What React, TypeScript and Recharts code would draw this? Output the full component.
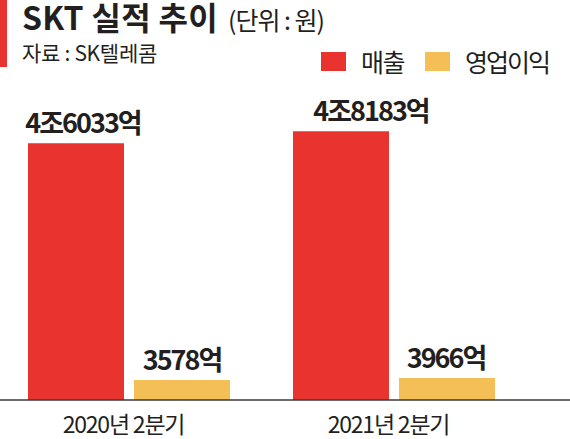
import React from 'react';
import { BarChart, Bar, XAxis, YAxis, LabelList } from 'recharts';

const categories = ['2020년 2분기', '2021년 2분기'];
const revenue = [46033, 48183];
const operatingProfit = [3578, 3966];
const revenueLabels = ['4조6033억', '4조8183억'];
const profitLabels = ['3578억', '3966억'];
const seriesNames = ['매출', '영업이익'];

const RED = '#E8332F';
const YELLOW = '#F4BF57';
const TEXT = '#231F20';
const FONT = '"Noto Sans CJK KR", "Noto Sans", sans-serif';

const data = categories.map((c, i) => ({
  name: c,
  revenue: revenue[i],
  profit: operatingProfit[i],
}));

const revenueShift = [7, 30];
const profitShift = [0, -1];

const makeLabel = (labels: string[], shift: number[]) => (props: any) => {
  const { x, y, width, index } = props;
  const cx = Number(x) + Number(width) / 2 + (shift[index] || 0);
  return (
    <text
      x={cx}
      y={Number(y) - 10}
      textAnchor="middle"
      fontFamily={FONT}
      fontWeight={700}
      fontSize={27}
      letterSpacing={-2}
      fill={TEXT}
    >
      {labels[index]}
    </text>
  );
};

const Tick = (props: any) => {
  const { x, y, payload } = props;
  return (
    <text
      x={Number(x) - 5}
      y={Number(y) + 33}
      textAnchor="middle"
      fontFamily={FONT}
      fontSize={23}
      letterSpacing={-1.2}
      fill={TEXT}
    >
      {payload.value}
    </text>
  );
};

export default function App() {
  return (
    <div style={{ position: 'absolute', left: 0, top: 0, width: 570, height: 439, background: '#fff', overflow: 'hidden' }}>
      <div style={{ position: 'absolute', left: 0, top: 0, width: 7, height: 67, background: RED }} />
      <div
        style={{
          position: 'absolute',
          left: 22,
          top: 0,
          fontFamily: FONT,
          color: TEXT,
          whiteSpace: 'nowrap',
          lineHeight: '32px',
        }}
      >
        <span style={{ fontSize: 32, fontWeight: 700, letterSpacing: 0.3 }}>SKT 실적 추이</span>
        <span style={{ fontSize: 25, marginLeft: 10, letterSpacing: -1 }}>(단위 : 원)</span>
      </div>
      <div
        style={{
          position: 'absolute',
          left: 22,
          top: 40,
          fontFamily: FONT,
          fontSize: 21,
          lineHeight: '24px',
          color: TEXT,
          letterSpacing: -0.3,
          whiteSpace: 'nowrap',
        }}
      >
        자료 : SK텔레콤
      </div>
      <div
        style={{
          position: 'absolute',
          left: 321,
          top: 47,
          display: 'flex',
          alignItems: 'center',
          fontFamily: FONT,
          color: TEXT,
          whiteSpace: 'nowrap',
        }}
      >
        <span style={{ display: 'inline-block', width: 25, height: 19, background: RED }} />
        <span style={{ marginLeft: 15, fontSize: 25, letterSpacing: -1.5, lineHeight: '28px' }}>{seriesNames[0]}</span>
        <span style={{ display: 'inline-block', width: 25, height: 19, background: YELLOW, marginLeft: 21 }} />
        <span style={{ marginLeft: 15, fontSize: 25, letterSpacing: -2, lineHeight: '28px' }}>{seriesNames[1]}</span>
      </div>
      <div style={{ position: 'absolute', left: -4, top: 0 }}>
        <BarChart
          width={574}
          height={439}
          data={data}
          margin={{ top: 100, right: 0, bottom: 0, left: 0 }}
          barGap={10}
          barSize={96}
        >
          <XAxis
            dataKey="name"
            height={39}
            padding={{ left: 0, right: 44 }}
            axisLine={{ stroke: '#3a3a3a', strokeWidth: 1.5 }}
            tickLine={false}
            tickSize={0}
            tickMargin={0}
            tick={<Tick />}
            interval={0}
          />
          <YAxis hide domain={[0, 53800]} />
          <Bar dataKey="revenue" name={seriesNames[0]} fill={RED} isAnimationActive={false}>
            <LabelList dataKey="revenue" content={makeLabel(revenueLabels, revenueShift)} />
          </Bar>
          <Bar dataKey="profit" name={seriesNames[1]} fill={YELLOW} isAnimationActive={false}>
            <LabelList dataKey="profit" content={makeLabel(profitLabels, profitShift)} />
          </Bar>
        </BarChart>
      </div>
    </div>
  );
}
